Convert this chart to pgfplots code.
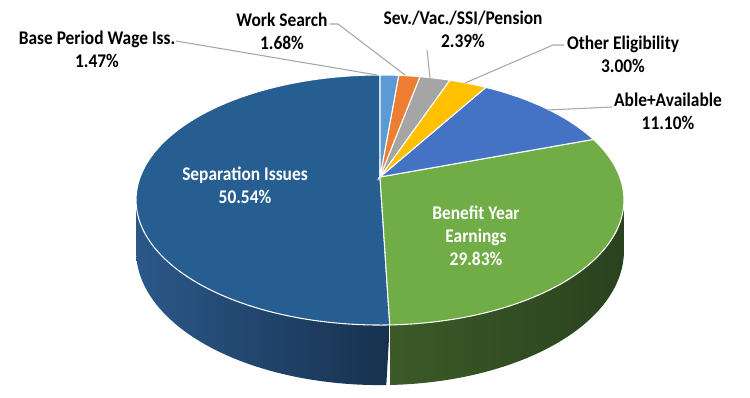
\documentclass[border=0pt]{standalone}
\usepackage{fontspec}
\setmainfont{Carlito}[FakeStretch=0.9]
\usepackage{pgfplots}
\pgfplotsset{compat=1.18}
\definecolor{cBase}{HTML}{5B9BD5}
\definecolor{cWork}{HTML}{ED7D31}
\definecolor{cSev}{HTML}{A5A5A5}
\definecolor{cOther}{HTML}{FFC000}
\definecolor{cAble}{HTML}{4472C4}
\definecolor{cBen}{HTML}{70AD47}
\definecolor{cSep}{HTML}{265E92}
\definecolor{sepL}{HTML}{2B5889}
\definecolor{sepR}{HTML}{17314E}
\definecolor{benL}{HTML}{3B5A27}
\definecolor{benR}{HTML}{2A421F}
\definecolor{lead}{HTML}{A6A6A6}
\tikzset{lbl/.style={font=\bfseries\fontsize{11}{13}\selectfont,align=center,inner sep=0pt}}
% data (percent)
\def\vBase{1.47}
\def\vWork{1.68}
\def\vSev{2.39}
\def\vOther{3.00}
\def\vAble{11.10}
\def\vBen{29.83}
\def\vSep{50.54}
\pgfmathsetmacro\aA{90}
\pgfmathsetmacro\aB{\aA-3.6*\vBase}
\pgfmathsetmacro\aC{\aB-3.6*\vWork}
\pgfmathsetmacro\aD{\aC-3.6*\vSev}
\pgfmathsetmacro\aE{\aD-3.6*\vOther}
\pgfmathsetmacro\aF{\aE-3.6*\vAble}
\pgfmathsetmacro\aG{\aF-3.6*\vBen}
\pgfmathsetmacro\aH{\aG-3.6*\vSep}
\pgfmathsetmacro\sL{-180+asin(0.184)}
\pgfmathsetmacro\sR{-asin(0.184)}
\begin{document}
\begin{tikzpicture}
\begin{axis}[name=ax,width=15cm,height=7.94cm,scale only axis,hide axis,
  xmin=0,xmax=750,ymin=0,ymax=397,clip=false,
  declare function={
    dn(\t)=1+0.184*sin(\t);
    px(\t)=380+239.8*cos(\t)/dn(\t);
    py(\t)=220+120.8*sin(\t)/dn(\t);
    tt(\u,\ta,\tb)=(\u<=1)*(\ta+(\tb-\ta)*\u)+(\u>1)*(\tb-(\tb-\ta)*(\u-1));
    sy(\u,\ta,\tb)=py(tt(\u,\ta,\tb))-(\u>1)*49/dn(tt(\u,\ta,\tb));
  }]
% sides
\addplot[left color=sepL,right color=sepR,draw=none,domain=0:2,samples=241]
  ({px(tt(x,\sL,\aG))},{sy(x,\sL,\aG)}) -- cycle;
\addplot[left color=benL,right color=benR,draw=none,domain=0:2,samples=241]
  ({px(tt(x,\aG,\sR))},{sy(x,\aG,\sR)}) -- cycle;
\addplot[white,line width=0.8pt,domain=0:1,samples=2]
  ({px(\aG)},{py(\aG)-x*49/dn(\aG)});
% top faces
\addplot[fill=cSep,draw=white,line width=0.6pt,domain=\aH:\aG,samples=120]
  ({px(x)},{py(x)}) -- (380,220) -- cycle;
\addplot[fill=cBen,draw=white,line width=0.6pt,domain=\aG:\aF,samples=80]
  ({px(x)},{py(x)}) -- (380,220) -- cycle;
\addplot[fill=cAble,draw=white,line width=0.6pt,domain=\aF:\aE,samples=40]
  ({px(x)},{py(x)}) -- (380,220) -- cycle;
\addplot[fill=cOther,draw=white,line width=0.6pt,domain=\aE:\aD,samples=15]
  ({px(x)},{py(x)}) -- (380,220) -- cycle;
\addplot[fill=cSev,draw=white,line width=0.6pt,domain=\aD:\aC,samples=12]
  ({px(x)},{py(x)}) -- (380,220) -- cycle;
\addplot[fill=cWork,draw=white,line width=0.6pt,domain=\aC:\aB,samples=10]
  ({px(x)},{py(x)}) -- (380,220) -- cycle;
\addplot[fill=cBase,draw=white,line width=0.6pt,domain=\aB:\aA,samples=10]
  ({px(x)},{py(x)}) -- (380,220) -- cycle;
% leader lines
\addplot[lead,line width=0.6pt] coordinates {(176,356) (377,322)};
\addplot[lead,line width=0.6pt] coordinates {(330,373) (338,373) (405,322)};
\addplot[lead,line width=0.6pt] coordinates {(427,347) (430,319)};
\addplot[lead,line width=0.6pt] coordinates {(564,352) (553,352) (465,314)};
\addplot[lead,line width=0.6pt] coordinates {(612,290) (547,287)};
% labels
\node[lbl] at (97,348) {Base Period Wage Iss.\\1.47\%};
\node[lbl] at (282,366) {Work Search\\1.68\%};
\node[lbl] at (463,368) {Sev./Vac./SSI/Pension\\2.39\%};
\node[lbl] at (623,343) {Other Eligibility\\3.00\%};
\node[lbl] at (668,286) {Able+Available\\11.10\%};
\node[lbl,text=white] at (245,212) {Separation Issues\\50.54\%};
\node[lbl,text=white] at (476,161) {Benefit Year\\Earnings\\29.83\%};
\end{axis}
\pgfresetboundingbox
\path (ax.south west) rectangle (ax.north east);
\end{tikzpicture}
\end{document}
